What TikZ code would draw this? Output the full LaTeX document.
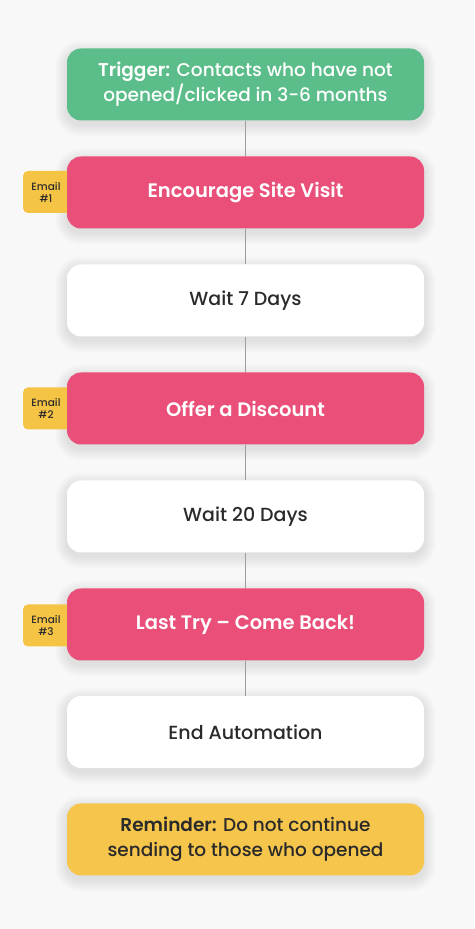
\documentclass[tikz,border=0pt]{standalone}
\usepackage{fontspec}
\setmainfont{Poppins}[UprightFont=* Medium, BoldFont=* SemiBold]
\definecolor{bgc}{HTML}{F8F8F8}
\definecolor{greenc}{HTML}{5BBE8A}
\definecolor{pinkc}{HTML}{E94F78}
\definecolor{yellowc}{HTML}{F6C64C}
\definecolor{tagc}{HTML}{F5C445}
\definecolor{linec}{HTML}{9C9C9C}
\definecolor{textdark}{HTML}{2A2A2A}
\pgfdeclarelayer{back}
\pgfdeclarelayer{shade}
\pgfsetlayers{back,shade,main}
\tikzset{
  stepbox/.style={minimum width=357pt, minimum height=72pt, rounded corners=14pt, align=center, inner sep=0pt,
    font=\fontsize{18.5}{25}\selectfont},
  greenbox/.style={stepbox, fill=greenc, text=white},
  pinkbox/.style={stepbox, fill=pinkc, text=white, font=\fontsize{19.5}{25}\selectfont\bfseries},
  whitebox/.style={stepbox, fill=white, text=textdark, font=\fontsize{19}{25}\selectfont},
  yellowbox/.style={stepbox, fill=yellowc, text=textdark},
  emailtag/.style={fill=tagc, rounded corners=5pt, minimum width=60pt, minimum height=42pt, inner sep=0pt,
    align=center, text=textdark, font=\fontsize{10.5}{12}\selectfont},
  conn/.style={draw=linec, line width=1.5pt},
  shadelayer/.style={fill=black, opacity=0.008}
}
\begin{document}
\begin{tikzpicture}[x=1pt, y=1pt]
\begin{pgfonlayer}{back}
\fill[bgc] (0,0) rectangle (474,929);
\end{pgfonlayer}
\useasboundingbox (0,0) rectangle (474,929);
% tags (behind boxes)
\node[emailtag] (tag1) at (53,737) {\hspace*{-14pt}Email\\\hspace*{-14pt}\#1};
\node[emailtag] (tag2) at (53,520.5) {\hspace*{-14pt}Email\\\hspace*{-14pt}\#2};
\node[emailtag] (tag3) at (53,303.5) {\hspace*{-14pt}Email\\\hspace*{-14pt}\#3};
% boxes
\node[greenbox] (trig) at (245.5,844.5) {\textbf{Trigger:} Contacts who have not\\opened/clicked in 3-6 months};
\node[pinkbox] (e1) at (245.5,736.5) {Encourage Site Visit};
\node[whitebox] (w1) at (245.5,628.5) {Wait 7 Days};
\node[pinkbox] (e2) at (245.5,520.5) {Offer a Discount};
\node[whitebox] (w2) at (245.5,412.5) {Wait 20 Days};
\node[pinkbox] (e3) at (245.5,304.5) {Last Try – Come Back!};
\node[whitebox] (end) at (245.5,197) {End Automation};
\node[yellowbox] (rem) at (245.5,89.5) {\textbf{Reminder:} Do not continue\\sending to those who opened};
% soft shadows
\begin{pgfonlayer}{shade}
\foreach \n in {trig,e1,w1,e2,w2,e3,end,rem}{
  \foreach \i in {1,...,12}{
    \fill[shadelayer, rounded corners=14pt+\i pt] ([shift={(-\i pt,-\i pt-4pt)}]\n.south west) rectangle ([shift={(\i pt,\i pt-4pt)}]\n.north east);
  }
}
\end{pgfonlayer}
% connectors
\draw[conn] (trig.south) -- (e1.north);
\draw[conn] (e1.south) -- (w1.north);
\draw[conn] (w1.south) -- (e2.north);
\draw[conn] (e2.south) -- (w2.north);
\draw[conn] (w2.south) -- (e3.north);
\draw[conn] (e3.south) -- (end.north);
\end{tikzpicture}
\end{document}
